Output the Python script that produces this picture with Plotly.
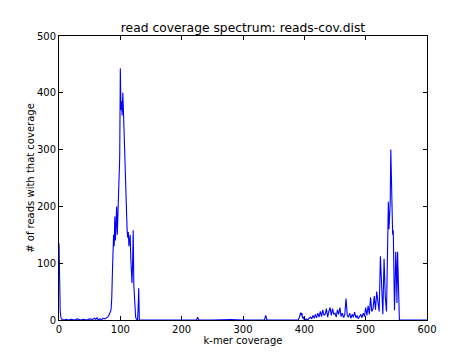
import plotly.graph_objects as go

# k-mer coverage values (x) and number of reads with that coverage (y)
coverage = [
    0, 1, 2, 3, 4, 5, 8, 12, 15, 20, 25, 30, 35, 40, 45, 50, 55, 58, 60, 62, 64, 66, 70, 72, 75, 78,
    80, 81, 82, 83, 84, 85, 86, 87, 88, 89, 90, 91, 92, 93, 94, 95, 96, 97, 98, 99,
    100, 101, 102, 103, 104, 105, 106, 107, 108, 109, 110, 111, 112, 113, 114, 115, 116, 117, 118, 119,
    120, 121, 122, 123, 124, 125, 126, 127, 128, 129, 130, 131, 132,
    150, 180, 200, 224, 226, 228, 250, 280, 300, 335, 337, 339, 360, 385,
    390, 392, 394, 395, 396, 397, 398, 400, 403, 405, 408, 410, 412, 414, 416, 418, 420, 422, 424, 426,
    428, 430, 432, 434, 436, 438, 440, 442, 444, 446, 448, 450, 452, 454, 456, 458, 460, 462, 464, 466,
    468, 470, 472, 474, 476, 478, 480, 482, 484, 486, 488, 490, 492, 494, 496, 498, 500, 502, 504, 506,
    508, 510, 512, 514, 516, 518, 520, 522, 524, 526, 528, 530, 532, 534, 536, 537, 538, 540, 541, 542,
    543, 544, 545, 546, 547, 548, 549, 550, 551, 552, 553, 554, 555, 556, 580, 600,
]
reads = [
    135, 60, 15, 5, 2, 1, 0, 1, 0, 1, 0, 2, 0, 1, 0, 2, 1, 3, 1, 4, 0, 2, 1, 3, 2, 4,
    6, 8, 10, 12, 15, 20, 38, 80, 126, 150, 130, 182, 140, 170, 200, 150, 185, 200, 240, 287,
    443, 370, 385, 360, 400, 370, 330, 290, 240, 200, 170, 160, 145, 155, 130, 140, 150, 110, 85, 65,
    100, 158, 60, 35, 15, 5, 2, 0, 0, 20, 56, 0, 0,
    0, 1, 0, 0, 5, 0, 0, 1, 0, 0, 8, 0, 0, 0,
    0, 5, 13, 8, 12, 3, 6, 0, 2, 0, 3, 5, 2, 8, 3, 10, 4, 12, 5, 15,
    6, 18, 8, 10, 20, 5, 15, 22, 8, 20, 10, 12, 5, 18, 10, 22, 6, 12, 4, 10,
    38, 8, 5, 12, 3, 10, 5, 14, 4, 8, 2, 6, 10, 4, 12, 6, 22, 8, 25, 10,
    40, 15, 20, 42, 18, 50, 30, 15, 112, 60, 10, 108, 40, 15, 150, 208, 160, 205, 300, 220,
    200, 150, 158, 80, 17, 60, 120, 90, 30, 120, 65, 20, 0, 0, 0, 0,
]
x_ticks = [0, 100, 200, 300, 400, 500, 600]
y_ticks = [0, 100, 200, 300, 400, 500]

FONT = "DejaVu Sans"

fig = go.Figure(
    go.Scatter(
        x=coverage, y=reads, mode="lines",
        line=dict(color="#0000ff", width=1.1),
        hoverinfo="skip",
    )
)

axis_common = dict(
    showline=True, linecolor="black", linewidth=1, mirror="ticks",
    ticks="inside", ticklen=4, tickcolor="black", tickwidth=1,
    showgrid=False, zeroline=False,
    tickfont=dict(family=FONT, size=10, color="black"),
)

# page body adds an 8px offset; margins compensate so the plot box lands where the reference has it
fig.update_layout(
    width=474, height=355,
    margin=dict(l=51, r=55, t=28, b=43),
    paper_bgcolor="white", plot_bgcolor="white",
    showlegend=False,
    title=dict(
        text="read coverage spectrum: reads-cov.dist",
        font=dict(family=FONT, size=12.3, color="black"),
        x=0.5, xanchor="center", xref="paper",
        y=1, yanchor="bottom", yref="paper",
        pad=dict(b=4),
    ),
    xaxis=dict(
        range=[0, 600], tickvals=x_ticks, **axis_common,
        title=dict(text="k-mer coverage", font=dict(family=FONT, size=10, color="black"), standoff=0),
    ),
    yaxis=dict(
        range=[0, 500], tickvals=y_ticks, **axis_common,
        title=dict(text="# of reads with that coverage", font=dict(family=FONT, size=10, color="black"), standoff=0),
    ),
)

fig.write_html("out.html")
